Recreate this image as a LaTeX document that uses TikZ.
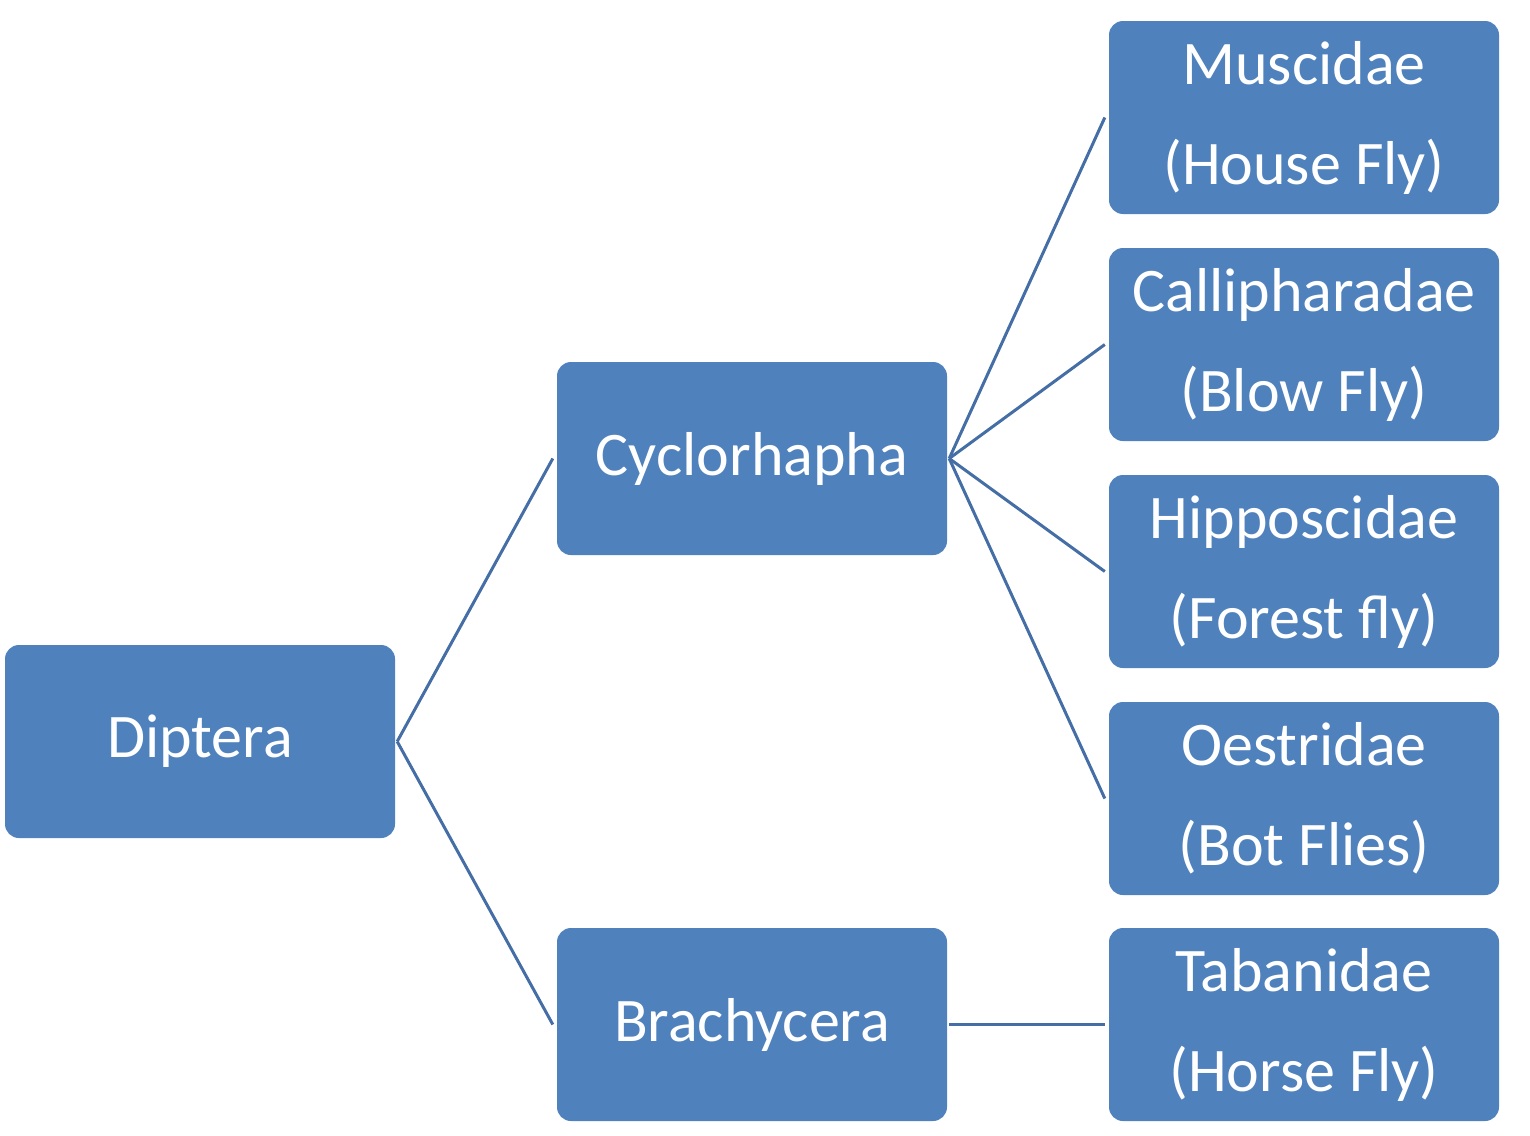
\documentclass[tikz,border=0pt]{standalone}
\usepackage{fontspec}
\setmainfont{Carlito}
\begin{document}
\begin{tikzpicture}[x=1pt,y=-1pt,
  box/.style={fill={rgb,255:red,79;green,129;blue,189}, rounded corners=14pt, minimum width=390pt, minimum height=193pt, inner sep=0pt, text=white, font=\fontsize{62}{100}\selectfont, align=center},
  link/.style={draw={rgb,255:red,68;green,110;blue,165}, line width=3pt}]
\useasboundingbox (0,0) rectangle (1530,1135);
\node[box] (dip) at (200,741.5) {Diptera};
\node[box] (cyc) at (752,458.5) {Cyclorhapha};
\node[box] (bra) at (752,1024.5) {Brachycera};
\node[box] (mus) at (1304,117.5) {Muscidae\\(House Fly)};
\node[box] (cal) at (1304,344.5) {Callipharadae\\(Blow Fly)};
\node[box] (hip) at (1304,571.5) {Hipposcidae\\(Forest fly)};
\node[box] (oes) at (1304,798.5) {Oestridae\\(Bot Flies)};
\node[box] (tab) at (1304,1024.5) {Tabanidae\\(Horse Fly)};
\draw[link] ([xshift=2pt]dip.east) -- ([xshift=-4pt]cyc.west);
\draw[link] ([xshift=2pt]dip.east) -- ([xshift=-4pt]bra.west);
\foreach \t in {mus,cal,hip,oes}
  \draw[link] ([xshift=2pt]cyc.east) -- ([xshift=-4pt]\t.west);
\draw[link] ([xshift=2pt]bra.east) -- ([xshift=-4pt]tab.west);
\end{tikzpicture}
\end{document}
